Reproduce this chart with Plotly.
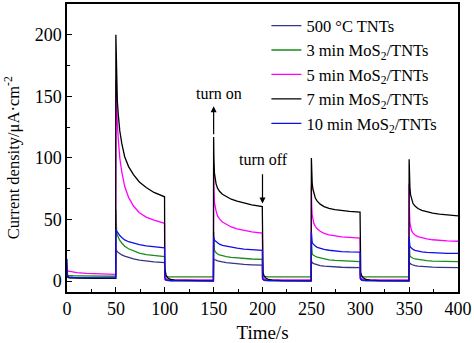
import plotly.graph_objects as go

# Time axis (s): dark / light periods
time_s = [
    0, 0.5, 1.5, 3, 6, 10, 20, 35, 49.8,
    50, 50.3, 50.8, 51.5, 52.5, 54, 56, 59, 63, 68, 74, 81, 89, 99.8,
    100, 100.5, 101.5, 103, 106, 110, 120, 135, 149.8,
    150, 150.3, 150.8, 151.5, 152.5, 154, 156, 159, 163, 168, 174, 181, 189, 199.8,
    200, 200.5, 201.5, 203, 206, 210, 220, 235, 249.8,
    250, 250.3, 250.8, 251.5, 252.5, 254, 256, 259, 263, 268, 274, 281, 289, 299.8,
    300, 300.5, 301.5, 303, 306, 310, 320, 335, 349.8,
    350, 350.3, 350.8, 351.5, 352.5, 354, 356, 359, 363, 368, 374, 381, 389, 400,
]

tnt_500 = [
    4, 3.3, 3, 2.8, 2.7, 2.6, 2.5, 2.4, 2.3,
    25.5, 25, 24.5, 24, 23.2, 22.3, 21.3, 20.3, 19.2, 18, 17.1, 16.3, 15.6, 15,
    2, 1, 0.6, 0.4, 0.3, 0.2, 0.2, 0.2, 0.2,
    18, 17.8, 17.5, 17.2, 17, 16.5, 16, 15.6, 15, 14.5, 14, 13.6, 13.3, 13,
    2, 1, 0.6, 0.4, 0.3, 0.2, 0.2, 0.2, 0.2,
    16, 15.5, 15, 14.6, 14.2, 13.7, 13.2, 12.7, 12.2, 11.8, 11.5, 11.3, 11.1, 11,
    2, 1, 0.6, 0.4, 0.3, 0.2, 0.2, 0.2, 0.2,
    15.5, 15, 14.5, 14, 13.5, 13, 12.6, 12.2, 11.9, 11.6, 11.4, 11.2, 11.1, 11,
]

mos2_3min = [
    6, 5, 4.7, 4.5, 4.4, 4.3, 4.2, 4.1, 4,
    58, 46, 40, 37.5, 35.5, 33, 31, 28.4, 26.3, 24.5, 22.8, 21.5, 20.7, 20,
    5, 4.2, 3.8, 3.6, 3.5, 3.5, 3.5, 3.5, 3.5,
    40, 30, 25.5, 24, 23, 22, 21.3, 20.6, 20, 19.3, 18.8, 18.3, 18, 17.7,
    5, 4.2, 3.8, 3.6, 3.5, 3.5, 3.5, 3.5, 3.5,
    34, 25, 22.5, 21.5, 20.8, 20.2, 19.5, 18.8, 18, 17.3, 16.8, 16.4, 16.1, 15.8,
    5, 4.2, 3.8, 3.6, 3.5, 3.5, 3.5, 3.5, 3.5,
    33, 23, 20.5, 19.8, 19.2, 18.6, 18, 17.5, 17, 16.6, 16.3, 16.1, 15.9, 15.8,
]

mos2_5min = [
    9, 8.5, 8.2, 8, 7.5, 7, 6.3, 5.8, 5.5,
    163, 150, 138, 128, 115, 100, 89, 77, 68, 61, 55.5, 52, 49.5, 47,
    6, 3, 2, 1.5, 1.2, 1.1, 1, 1, 1,
    92, 75, 64, 59, 57, 53, 50.5, 48, 46, 44, 42.5, 41.3, 40, 39,
    6, 3, 2, 1.5, 1.2, 1.1, 1, 1, 1,
    77, 62, 54, 50, 47, 44.5, 42.5, 40.5, 38.8, 37.6, 36.7, 36, 35.5, 35,
    6, 3, 2, 1.5, 1.2, 1.1, 1, 1, 1,
    79, 58, 47, 43.5, 41, 39, 37.5, 36.2, 35.2, 34.3, 33.6, 33.1, 32.7, 32.4,
]

mos2_7min = [
    3.5, 3, 2.8, 2.7, 2.6, 2.5, 2.4, 2.3, 2.2,
    200, 180, 160, 146, 135, 122, 112, 101, 93, 86.5, 80.5, 76, 72, 68.5,
    10, 7, 4.5, 2.8, 1.4, 0.8, 0.5, 0.4, 0.3,
    117, 100, 88, 82, 79, 75.5, 73, 70.5, 68.5, 66.5, 65, 63.5, 62, 60.5,
    10, 7, 4.5, 2.8, 1.4, 0.8, 0.5, 0.4, 0.3,
    100, 88, 80, 75, 71, 67.5, 65, 62.5, 60.5, 59, 58, 57.2, 56.6, 56,
    10, 7, 4.5, 2.8, 1.4, 0.8, 0.5, 0.4, 0.3,
    99, 85, 76, 70, 66, 63, 61, 59, 57.5, 56.3, 55.3, 54.5, 53.7, 53,
]

mos2_10min = [
    18, 5, 3.5, 3.2, 3, 2.9, 2.8, 2.7, 2.6,
    42, 41, 40.5, 40, 38.5, 37, 35.5, 33.5, 32, 30.8, 29.6, 28.6, 27.8, 27,
    3, 1.5, 1, 0.7, 0.5, 0.4, 0.3, 0.3, 0.3,
    36, 34.5, 33.5, 32.8, 32.2, 31, 30, 29, 28.3, 27.5, 26.8, 26, 25.5, 25,
    3, 1.5, 1, 0.7, 0.5, 0.4, 0.3, 0.3, 0.3,
    40, 34, 31.5, 30.5, 29.5, 28.5, 27.5, 26.6, 25.8, 25.1, 24.5, 24, 23.7, 23.5,
    3, 1.5, 1, 0.7, 0.5, 0.4, 0.3, 0.3, 0.3,
    36, 31, 28.5, 27.5, 26.6, 25.8, 25, 24.4, 23.8, 23.3, 23, 22.8, 22.6, 22.5,
]

series = [
    ("500 °C TNTs", tnt_500, "#34348a"),
    ("3 min MoS<sub>2</sub>/TNTs", mos2_3min, "#1a8c1a"),
    ("5 min MoS<sub>2</sub>/TNTs", mos2_5min, "#ff00ff"),
    ("7 min MoS<sub>2</sub>/TNTs", mos2_7min, "#000000"),
    ("10 min MoS<sub>2</sub>/TNTs", mos2_10min, "#1010e6"),
]

FONT = "Liberation Serif"

fig = go.Figure()
for name, vals, color in series:
    fig.add_trace(go.Scatter(x=time_s, y=vals, mode="lines", name=name,
                             line=dict(color=color, width=1.3)))

fig.update_layout(
    width=474, height=343,
    margin=dict(l=67, r=15, t=2, b=50),
    paper_bgcolor="white", plot_bgcolor="white",
    font=dict(family=FONT, size=18, color="black"),
    showlegend=True,
    legend=dict(x=0.51, y=0.985, xanchor="left", yanchor="top",
                bgcolor="rgba(0,0,0,0)", font=dict(family=FONT, size=16.5),
                tracegroupgap=0),
    xaxis=dict(range=[0, 400], tickvals=[0, 50, 100, 150, 200, 250, 300, 350, 400],
               ticks="inside", ticklen=5, tickwidth=1, tickcolor="black",
               minor=dict(dtick=25, ticks="inside", ticklen=3, tickcolor="black"),
               showline=True, linecolor="black", linewidth=1.5, mirror=True,
               showgrid=False, zeroline=False,
               title=dict(text="Time/s", font=dict(size=19), standoff=8),
               tickfont=dict(size=18)),
    yaxis=dict(range=[-8.8, 225], tickvals=[0, 50, 100, 150, 200],
               ticks="inside", ticklen=5, tickwidth=1, tickcolor="black",
               minor=dict(dtick=25, ticks="inside", ticklen=3, tickcolor="black"),
               showline=True, linecolor="black", linewidth=1.5, mirror=True,
               showgrid=False, zeroline=False,
               tickfont=dict(size=18)),
)

# y-axis title placed as rotated annotation
fig.add_annotation(text="Current density/μA·cm<sup>-2</sup>", xref="paper", yref="paper",
                   x=-0.139, y=0.467, xanchor="center", yanchor="middle",
                   textangle=-90, showarrow=False, font=dict(family=FONT, size=16.5))

arrow_style = dict(xref="x", yref="y", axref="x", ayref="y", showarrow=True,
                   arrowhead=2, arrowsize=1, arrowwidth=1.2, arrowcolor="black", text="")
fig.add_annotation(x=150, y=142, ax=150, ay=118, **arrow_style)
fig.add_annotation(x=200, y=63, ax=200, ay=88, **arrow_style)
fig.add_annotation(x=156, y=152, xref="x", yref="y", text="turn on", showarrow=False,
                   font=dict(family=FONT, size=16, color="black"))
fig.add_annotation(x=201, y=99, xref="x", yref="y", text="turn off", showarrow=False,
                   font=dict(family=FONT, size=16, color="black"))

fig.write_html("out.html")
